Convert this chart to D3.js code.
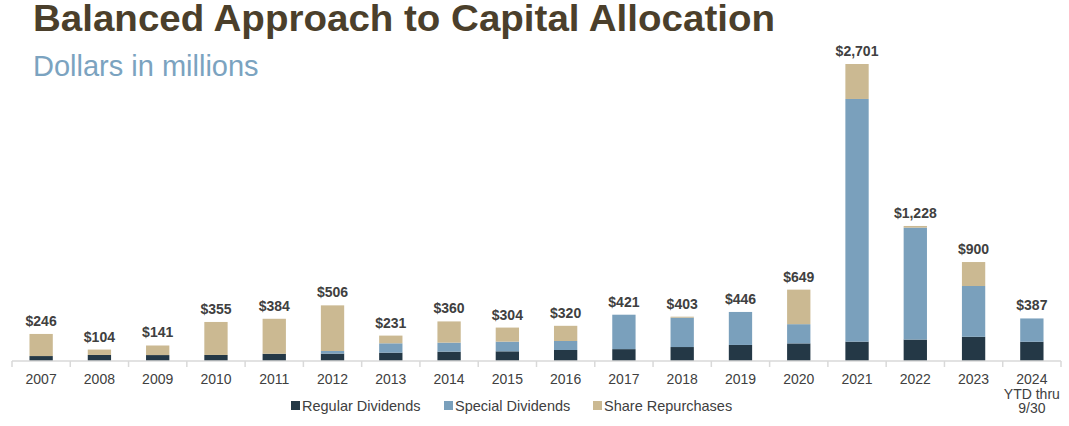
<!DOCTYPE html>
<html>
<head>
<meta charset="utf-8">
<script src="https://cdn.jsdelivr.net/npm/d3@7"></script>
<style>
  body { margin: 0; background: #fff; }
  svg { display: block; font-family: "Liberation Sans", Arial, sans-serif; }
</style>
</head>
<body>
<div id="chart"></div>
<script>
// data, in $ millions
const years = ["2007","2008","2009","2010","2011","2012","2013","2014","2015",
               "2016","2017","2018","2019","2020","2021","2022","2023","2024"];
const regular = [45, 55, 54, 55, 66, 67, 76, 85, 88, 100, 108, 127, 146, 160, 176, 195, 220, 175];
const special = [0, 0, 0, 0, 0, 24, 85, 82, 88, 82, 313, 267, 300, 175, 2207, 1018, 462, 212];
const repurchases = [201, 49, 87, 300, 318, 415, 70, 193, 128, 138, 0, 9, 0, 314, 318, 15, 218, 0];
const totals = [246, 104, 141, 355, 384, 506, 231, 360, 304, 320, 421, 403, 446, 649, 2701, 1228, 900, 387];

const seriesKeys = ["Regular Dividends", "Special Dividends", "Share Repurchases"];
const colors = ["#243846", "#7aa0bc", "#cbb992"];

const width = 1069;
const height = 426;
const baseline = 361;

const rows = years.map((y, i) => ({
    year: y,
    "Regular Dividends": regular[i],
    "Special Dividends": special[i],
    "Share Repurchases": repurchases[i],
    total: totals[i]
}));

const svg = d3.select("#chart").append("svg")
    .attr("width", width)
    .attr("height", height);

// titles
svg.append("text")
    .attr("x", 33).attr("y", 31)
    .attr("fill", "#4b3f2b")
    .attr("textLength", 742)
    .attr("lengthAdjust", "spacingAndGlyphs")
    .style("font-size", "37px")
    .style("font-weight", "bold")
    .text("Balanced Approach to Capital Allocation");

svg.append("text")
    .attr("x", 33).attr("y", 76)
    .attr("fill", "#7ba3c0")
    .style("font-size", "29px")
    .text("Dollars in millions");

const x = d3.scaleBand().domain(years).range([12, 1061]).paddingInner(0.6).paddingOuter(0.3);
const y = d3.scaleLinear().domain([0, 2701]).range([baseline, 64]);
const color = d3.scaleOrdinal().domain(seriesKeys).range(colors);

const stacked = d3.stack().keys(seriesKeys)(rows);

svg.append("g")
    .selectAll("g")
    .data(stacked)
    .join("g")
    .attr("fill", d => color(d.key))
    .selectAll("rect")
    .data(d => d)
    .join("rect")
    .attr("x", d => x(d.data.year))
    .attr("y", d => y(d[1]))
    .attr("width", x.bandwidth())
    .attr("height", d => y(d[0]) - y(d[1]));

// value labels
svg.append("g")
    .selectAll("text")
    .data(rows)
    .join("text")
    .attr("x", d => x(d.year) + x.bandwidth() / 2)
    .attr("y", d => y(d.total) - 8)
    .attr("text-anchor", "middle")
    .attr("fill", "#404040")
    .style("font-size", "14px")
    .style("font-weight", "bold")
    .text(d => "$" + d3.format(",")(d.total));

// x axis with ticks between categories
const step = x.step();
const axisG = svg.append("g").attr("transform", `translate(0,${baseline})`);
axisG.append("line")
    .attr("x1", 12).attr("x2", 1061)
    .attr("stroke", "#d9d9d9").attr("stroke-width", 1.5);
axisG.selectAll("line.tick")
    .data(d3.range(years.length + 1))
    .join("line")
    .attr("class", "tick")
    .attr("x1", i => 12 + i * step).attr("x2", i => 12 + i * step)
    .attr("y1", 0).attr("y2", 6)
    .attr("stroke", "#d9d9d9").attr("stroke-width", 1.5);

const labelLines = years.map(y => y === "2024" ? ["2024", "YTD thru", "9/30"] : [y]);
axisG.selectAll("text.year")
    .data(years)
    .join("text")
    .attr("class", "year")
    .attr("x", d => x(d) + x.bandwidth() / 2)
    .attr("y", 23)
    .attr("text-anchor", "middle")
    .attr("fill", "#404040")
    .style("font-size", "14px")
    .each(function (d, i) {
        d3.select(this).selectAll("tspan")
            .data(labelLines[i])
            .join("tspan")
            .attr("x", x(d) + x.bandwidth() / 2)
            .attr("dy", (t, j) => j === 0 ? 0 : 14.5)
            .text(t => t);
    });

// legend
const legendX = [291, 444, 593];
const legend = svg.append("g")
    .selectAll("g")
    .data(seriesKeys)
    .join("g")
    .attr("transform", (d, i) => `translate(${legendX[i]},${401})`);
legend.append("rect")
    .attr("width", 9).attr("height", 9)
    .attr("fill", d => color(d));
legend.append("text")
    .attr("x", 11).attr("y", 9.5)
    .attr("fill", "#404040")
    .style("font-size", "14.5px")
    .text(d => d);
</script>
</body>
</html>
